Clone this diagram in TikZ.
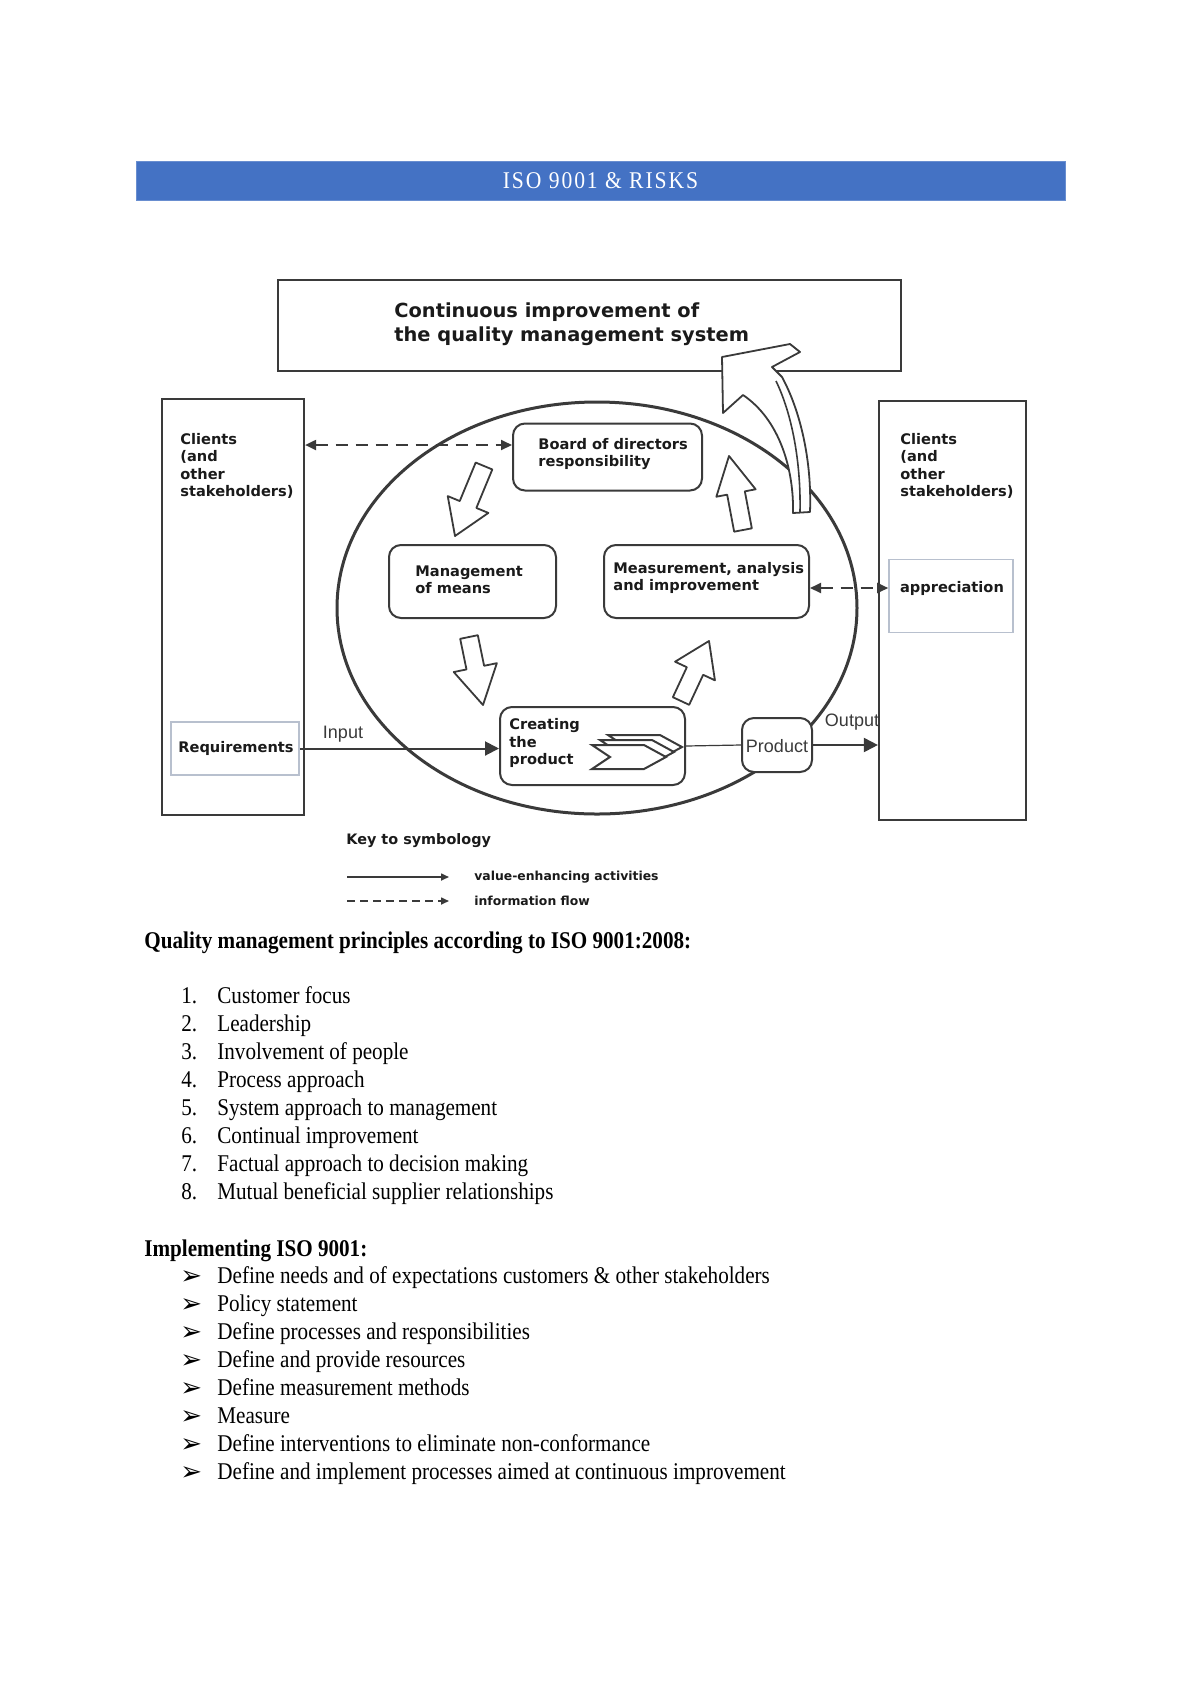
\documentclass[tikz,border=0pt]{standalone}
\usepackage{fontspec}
\setmainfont{Liberation Serif}
\newfontfamily\bodyfont[FakeStretch=0.88]{Liberation Serif}
\newfontfamily\titlefont[FakeStretch=0.9,LetterSpace=8]{Liberation Serif}
\newfontfamily\diafont{DejaVu Sans}
\newfontfamily\arialfont{Liberation Sans}
\newfontfamily\dingfont{DejaVu Sans}
\usetikzlibrary{arrows.meta,calc,shapes.geometric}
\definecolor{titleblue}{HTML}{4472C4}
\definecolor{ink}{HTML}{3A3A3A}
\definecolor{lightbox}{HTML}{B8C0CE}
\definecolor{txt}{HTML}{1A1A1A}

% block arrow: #1 prefix, #2 tail, #3 tip, #4 shaft half width, #5 head half width, #6 head-base fraction
\newcommand\blkarrow[6]{%
  \coordinate (#1h) at ($(#2)!#6!(#3)$);
  \draw[barrow] ($(#2)!#4!90:(#3)$) -- ($(#1h)!#4!90:(#3)$) -- ($(#1h)!#5!90:(#3)$) -- (#3)
     -- ($(#1h)!#5!-90:(#3)$) -- ($(#1h)!#4!-90:(#3)$) -- ($(#2)!#4!-90:(#3)$) -- cycle;}
\newcommand\chevshape[2]{%
  \draw[chevst] (#1,#2) -- ++(52,0) -- ++(22,12) -- ++(-22,12) -- ++(-52,0) -- ++(18,-12) -- cycle;}

\begin{document}
\begin{tikzpicture}[x=0.5pt,y=-0.5pt,
  sqbox/.style={draw=ink, line width=1.1pt, inner sep=0pt},
  rbox/.style={draw=ink, line width=1pt, rounded corners=6pt, inner sep=0pt},
  litebox/.style={draw=lightbox, line width=0.8pt, inner sep=0pt},
  cyclest/.style={draw=ink, line width=1.5pt, ellipse, minimum width=260pt, minimum height=206pt, inner sep=0pt},
  barrow/.style={draw=ink, line width=0.9pt, fill=white, line join=round},
  chevst/.style={draw=ink, line width=1pt, fill=white, line join=miter},
  dlab/.style={font=\diafont\bfseries\fontsize{7.3}{8.6}\selectfont, text=txt, align=left, inner sep=0pt},
  toplab/.style={font=\diafont\bfseries\fontsize{9.7}{12}\selectfont, text=txt, align=left, inner sep=0pt},
  arlab/.style={font=\arialfont\fontsize{9}{10}\selectfont, text=ink, inner sep=0pt},
  keyhead/.style={font=\diafont\bfseries\fontsize{7.2}{8}\selectfont, text=txt, inner sep=0pt},
  keylab/.style={font=\diafont\bfseries\fontsize{6.2}{7}\selectfont, text=txt, inner sep=0pt},
  solidarrow/.style={draw=ink, line width=1pt, -{Triangle[length=7pt,width=7pt]}},
  dasharrow/.style={draw=ink, line width=1pt, dash pattern=on 6pt off 4pt, {Triangle[length=5.5pt,width=5pt]}-{Triangle[length=5.5pt,width=5pt]}},
  keysolid/.style={draw=ink, line width=0.8pt, -{Triangle[length=4pt,width=3.5pt]}},
  keydash/.style={draw=ink, line width=0.8pt, dash pattern=on 4pt off 2.5pt, -{Triangle[length=4pt,width=3.5pt]}},
  body/.style={font=\bodyfont\fontsize{12}{14}\selectfont, text=black, inner sep=0pt, anchor=base west},
  bul/.style={font=\dingfont\fontsize{13}{14}\selectfont, text=black, inner sep=0pt, anchor=base west}
]
\fill[white] (0,0) rectangle (1200,1698);
\useasboundingbox (0,0) rectangle (1200,1698);

% title bar
\node[fill=titleblue, draw=titleblue!80!white, line width=0.4pt, minimum width=464.5pt, minimum height=19.5pt, inner sep=0pt,
      text=white, font=\titlefont\fontsize{12}{14}\selectfont] (title) at (600.5,180.5) {ISO 9001 \& RISKS};

% top box
\node[sqbox, minimum width=311.5pt, minimum height=45.5pt] (cibox) at (589.5,325.5) {};
\node[toplab, anchor=west] (citext) at (394,324) {Continuous improvement of\\the quality management system};

% cycle
\node[cyclest] (cyc) at (597,608) {};

% side boxes
\node[sqbox, minimum width=71pt, minimum height=208pt] (lcl) at (233,607) {};
\node[sqbox, minimum width=73.5pt, minimum height=209.5pt] (rcl) at (952.5,610.5) {};
\node[litebox, minimum width=64pt, minimum height=26.5pt] (req) at (235,748.5) {};
\node[litebox, minimum width=62pt, minimum height=36.5pt] (appr) at (951,596) {};
\node[dlab, anchor=west] (lcltxt) at (180,466) {Clients\\(and\\other\\stakeholders)};
\node[dlab, anchor=west] (rcltxt) at (900,466) {Clients\\(and\\other\\stakeholders)};
\node[dlab] (reqtxt) at (236,748) {Requirements};
\node[dlab] (apprtxt) at (952,588) {appreciation};

% process boxes
\node[rbox, fill=white, minimum width=94.5pt, minimum height=33.5pt] (board) at (607.5,457) {};
\node[rbox, fill=white, minimum width=83.5pt, minimum height=36.5pt] (mgmt) at (472.5,581.5) {};
\node[rbox, fill=white, minimum width=102.5pt, minimum height=36.5pt] (meas) at (706.5,581.5) {};
\node[rbox, fill=white, minimum width=92.5pt, minimum height=39pt] (create) at (592.5,746) {};
\node[rbox, fill=white, minimum width=35pt, minimum height=27pt] (prod) at (777,745) {};
\node[dlab, anchor=west] (boardtxt) at (538,454) {Board of directors\\responsibility};
\node[dlab, anchor=west] (mgmttxt) at (415,580) {Management\\of means};
\node[dlab, anchor=west] (meastxt) at (613,578) {Measurement, analysis\\and improvement};
\node[dlab, anchor=west] (createtxt) at (509,743) {Creating\\the\\product};
\node[arlab] (prodtxt) at (777,746) {Product};

% chevrons in "Creating the product"
\chevshape{608}{735}
\chevshape{600}{740}
\chevshape{592}{745}

% big curved improvement arrow
\draw[barrow] (722,357) -- (790,344) -- (800,352) -- (772,367) -- (782,377)
   .. controls (800,410) and (812,460) .. (810,512) -- (793,513)
   .. controls (794,470) and (780,420) .. (743,395) -- (723,413) -- cycle;
\draw[ink, line width=0.8pt] (776,381) .. controls (792,414) and (801,462) .. (800,512);

% block arrows of the cycle
\coordinate (a1t) at (484,466); \coordinate (a1p) at (455,536);
\blkarrow{a1}{a1t}{a1p}{4.5pt}{11pt}{0.55}
\coordinate (a2t) at (469,637); \coordinate (a2p) at (483,705);
\blkarrow{a2}{a2t}{a2p}{4.5pt}{11pt}{0.45}
\coordinate (a3t) at (681,701); \coordinate (a3p) at (709,641);
\blkarrow{a3}{a3t}{a3p}{4.5pt}{11pt}{0.5}
\coordinate (a4t) at (743,530); \coordinate (a4p) at (729,456);
\blkarrow{a4}{a4t}{a4p}{4.5pt}{10pt}{0.5}

% connectors
\draw[solidarrow] (req.east) -- (req.east -| create.west);
\node[arlab] (inlab) at (343,734) {Input};
\draw[ink, line width=0.6pt] (create.east) -- (prod.west);
\draw[solidarrow] (prod.east) -- (prod.east -| rcl.west);
\node[arlab] (outlab) at (852,722) {Output};
\coordinate (d1) at ([yshift=6pt]board.west);
\draw[dasharrow] (d1 -| lcl.east) -- (d1);
\coordinate (d2) at ([yshift=-3.25pt]meas.east);
\draw[dasharrow] (d2) -- (d2 -| appr.west);

% key
\node[keyhead, anchor=west] (keytitle) at (346,841) {Key to symbology};
\coordinate (k1a) at (347,877); \coordinate (k1b) at (449,877);
\draw[keysolid] (k1a) -- (k1b);
\node[keylab, anchor=west] (k1t) at (474,877) {value-enhancing activities};
\coordinate (k2a) at (347,901); \coordinate (k2b) at (449,901);
\draw[keydash] (k2a) -- (k2b);
\node[keylab, anchor=west] (k2t) at (474,901) {information flow};

% principles
\node[body, font=\bodyfont\bfseries\fontsize{12}{14}\selectfont] (h1) at (144,948.5) {Quality management principles according to ISO 9001:2008:};
\foreach \i/\t in {1/Customer focus,2/Leadership,3/Involvement of people,4/Process approach,5/System approach to management,6/Continual improvement,7/Factual approach to decision making,8/Mutual beneficial supplier relationships}{
  \node[body] (pn\i) at (181,{1003.6+28*(\i-1)}) {\i.};
  \node[body] (pt\i) at (217,{1003.6+28*(\i-1)}) {\t};
}

% implementing
\node[body, font=\bodyfont\bfseries\fontsize{12}{14}\selectfont] (h2) at (144,1256) {Implementing ISO 9001:};
\foreach \i/\t in {1/Define needs and of expectations customers \& other stakeholders,2/Policy statement,3/Define processes and responsibilities,4/Define and provide resources,5/Define measurement methods,6/Measure,7/Define interventions to eliminate non-conformance,8/Define and implement processes aimed at continuous improvement}{
  \node[bul] (ib\i) at (180,{1284+28*(\i-1)}) {➢};
  \node[body] (it\i) at (217,{1283+28*(\i-1)}) {\t};
}
\end{tikzpicture}
\end{document}
